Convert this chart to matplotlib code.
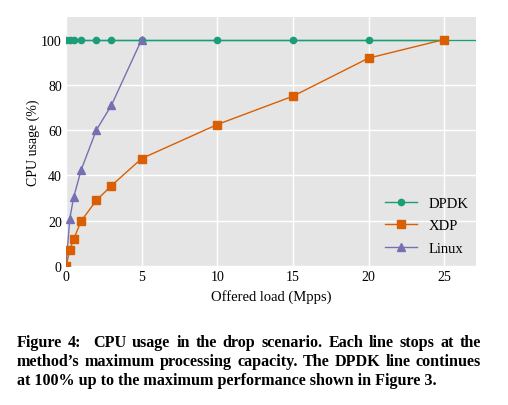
import matplotlib
matplotlib.use("Agg")
import matplotlib.pyplot as plt

# data (Mpps -> CPU %)
dpdk_x = [0, 0.25, 0.5, 1, 2, 3, 5, 10, 15, 20, 25]
dpdk_y = [100, 100, 100, 100, 100, 100, 100, 100, 100, 100, 100]
xdp_x = [0, 0.25, 0.5, 1, 2, 3, 5, 10, 15, 20, 25]
xdp_y = [0, 7.2, 11.9, 19.9, 29, 35.5, 47.5, 62.5, 75, 91.8, 100]
linux_x = [0, 0.25, 0.5, 1, 2, 3, 5]
linux_y = [0.5, 21, 30.3, 42.5, 60, 71, 100]

caption = [
    "Figure 4:  CPU usage in the drop scenario. Each line stops at the",
    "method\u2019s maximum processing capacity. The DPDK line continues",
    "at 100% up to the maximum performance shown in Figure 3.",
]

green = "#1b9e77"
orange = "#d95f02"
purple = "#7570b3"

plt.rcParams["font.family"] = ["Liberation Serif", "DejaVu Serif"]

fig = plt.figure(figsize=(5.08, 4.06), dpi=100)
ax = fig.add_axes([0.130, 0.342, 0.807, 0.614])
ax.set_facecolor("#e5e5e5")
ax.grid(True, color="white", linewidth=1)
ax.set_axisbelow(True)
for s in ax.spines.values():
    s.set_visible(False)

ax.axhline(100, color=green, linewidth=1, zorder=2)
ax.plot(dpdk_x, dpdk_y, color=green, marker="o", markersize=4.5, linewidth=1, label="DPDK", zorder=3)
ax.plot(xdp_x, xdp_y, color=orange, marker="s", markersize=6, linewidth=1, label="XDP", zorder=4)
ax.plot(linux_x, linux_y, color=purple, marker="^", markersize=6, linewidth=1, label="Linux", zorder=3)

ax.set_xlim(0, 27.1)
ax.set_ylim(0, 110)
ax.set_xticks([0, 5, 10, 15, 20, 25])
ax.set_yticks([0, 20, 40, 60, 80, 100])
ax.tick_params(length=0, labelsize=10, pad=3)
ax.set_xlabel("Offered load (Mpps)", fontsize=10.5, labelpad=4)
ax.set_ylabel("CPU usage (%)", fontsize=10, labelpad=1)

leg = ax.legend(loc="lower right", frameon=False, fontsize=10.5, handlelength=2.2,
                labelspacing=0.65, bbox_to_anchor=(1.014, -0.008))

# caption, first two lines justified like the paper
renderer = fig.canvas.get_renderer()
x0, x1 = 17, 481
fs = 11.6
for i, line in enumerate(caption):
    y = 1 - (343 + 19 * i) / 406
    if i == len(caption) - 1:
        fig.text(x0 / 508, y, line, fontsize=fs, fontweight="bold", va="center", ha="left")
        continue
    words = line.split(" ")
    texts = [fig.text(0, y, w, fontsize=fs, fontweight="bold", va="center", ha="left")
             for w in words]
    widths = [t.get_window_extent(renderer).width if w else 0 for t, w in zip(texts, words)]
    gap = (x1 - x0 - sum(widths)) / (len(words) - 1)
    x = x0
    for t, w in zip(texts, widths):
        t.set_x(x / 508)
        x += w + gap

fig.savefig("out.png", dpi=100)
